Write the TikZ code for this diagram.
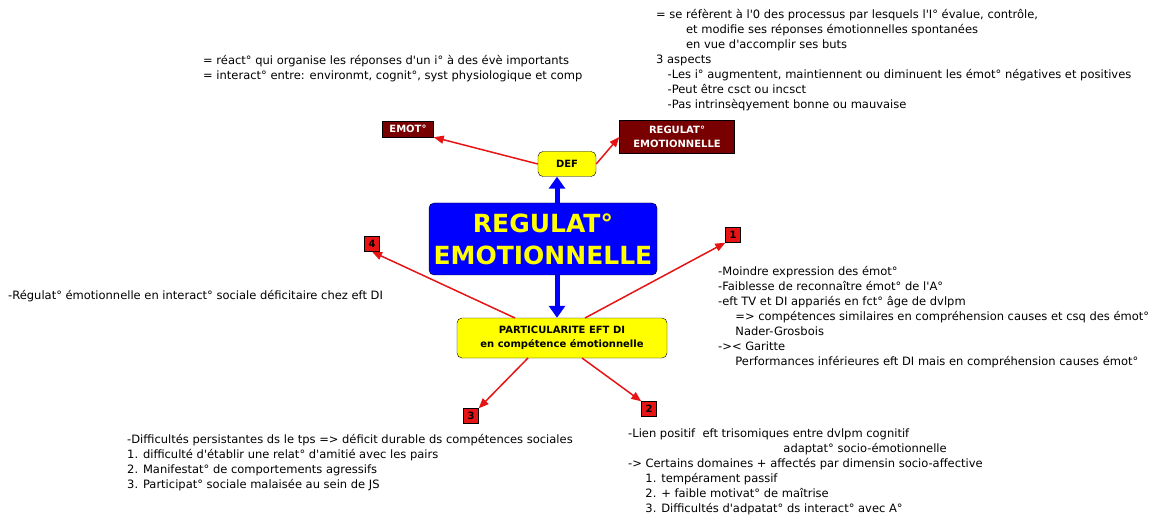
\documentclass[tikz,border=0pt]{standalone}
\usepackage{fontspec}
\setmainfont{DejaVu Sans}[Ligatures=TeXOff]
\usetikzlibrary{positioning}
\usetikzlibrary{arrows.meta}

\definecolor{mapred}{RGB}{230,20,20}
\definecolor{mapdark}{RGB}{120,0,0}
\definecolor{mapblue}{RGB}{0,0,255}
\definecolor{mapyellow}{RGB}{255,255,0}

\begin{document}
\begin{tikzpicture}
 [ x=1pt, y=-1pt
 , every node/.style={inner sep=0pt}
 , note/.style={anchor=north west, align=left, font=\fontsize{11.5}{15}\selectfont}
 , center/.style={draw, fill=mapblue, rounded corners=5pt, text=mapyellow, align=center,
     font=\fontsize{25}{32}\selectfont\bfseries, minimum width=228pt, minimum height=72pt}
 , topic/.style={draw, fill=mapyellow, rounded corners=5pt, align=center,
     font=\fontsize{10}{14}\selectfont\bfseries}
 , dark/.style={draw, fill=mapdark, text=white, align=center,
     font=\fontsize{10}{14}\selectfont\bfseries}
 , num/.style={draw, fill=mapred, font=\fontsize{10}{10}\selectfont\bfseries, minimum size=15pt}
 , thick link/.style={line width=5pt, mapblue, -{Triangle[length=12pt,width=16pt]}}
 , link/.style={line width=1.5pt, mapred, -{Triangle[length=10pt,width=8pt]}}
 ]
  \useasboundingbox (0,0) rectangle (1174,526);

  % main nodes
  \node [center] (main) at (543,239) {REGULAT°\\EMOTIONNELLE};
  \node [topic, minimum width=58pt, minimum height=25pt] (def) at (567,164) {DEF};
  \node [topic, minimum width=210pt, minimum height=40pt] (part) at (562,338)
    {PARTICULARITE EFT DI\\en compétence émotionnelle};
  \node [dark, minimum width=51pt, minimum height=16pt] (emot) at (408,129) {EMOT°};
  \node [dark, minimum width=115pt, minimum height=33pt] (regul) at (677,137)
    {REGULAT°\\EMOTIONNELLE};

  % numbered boxes
  \node [num] (n1) at (733,235) {1};
  \node [num] (n2) at (649,409) {2};
  \node [num] (n3) at (471,416) {3};
  \node [num] (n4) at (372,244) {4};

  % connectors
  \draw [thick link] (main.north -| 557,0) -- (def.south -| 557,0);
  \draw [thick link] (main.south -| 557,0) -- (part.north -| 557,0);
  \draw [link] (def.west) -- (emot.south east);
  \draw [link] (def.east) -- (regul.west);
  \draw [link] (515,318) -- (n4.south);
  \draw [link] (585,318) -- (n1.south west);
  \draw [link] (528,358) -- (n3.north east);
  \draw [link] (582,358) -- (n2.north west);

  % texts
  \node [note] (emottxt) at (203,55)
    {= réact° qui organise les réponses d'un i° à des évè importants\\
     = interact° entre: environmt, cognit°, syst physiologique et comp};
  \node [note] (regultxt) at (656,9)
    {= se réfèrent à l'0 des processus par lesquels l'I° évalue, contrôle,\\
     \hspace{2.6em}et modifie ses réponses émotionnelles spontanées\\
     \hspace{2.6em}en vue d'accomplir ses buts\\
     3 aspects\\
     \hspace{1em}-Les i° augmentent, maintiennent ou diminuent les émot° négatives et positives\\
     \hspace{1em}-Peut être csct ou incsct\\
     \hspace{1em}-Pas intrinsèqyement bonne ou mauvaise};
  \node [note] (txt4) at (8,290)
    {-Régulat° émotionnelle en interact° sociale déficitaire chez eft DI};
  \node [note] (txt1) at (718,266)
    {-Moindre expression des émot°\\
     -Faiblesse de reconnaître émot° de l'A°\\
     -eft TV et DI appariés en fct° âge de dvlpm\\
     \hspace{1.5em}=> compétences similaires en compréhension causes et csq des émot°\\
     \hspace{1.5em}Nader-Grosbois\\
     ->< Garitte\\
     \hspace{1.5em}Performances inférieures eft DI mais en compréhension causes émot°};
  \node [note] (txt3) at (127,434)
    {-Difficultés persistantes ds le tps => déficit durable ds compétences sociales\\
     1. difficulté d'établir une relat° d'amitié avec les pairs\\
     2. Manifestat° de comportements agressifs\\
     3. Participat° sociale malaisée au sein de JS};
  \node [note] (txt2) at (628,429)
    {-Lien positif~ eft trisomiques entre dvlpm cognitif\\
     \hspace{13.5em}adaptat° socio-émotionnelle\\
     -> Certains domaines + affectés par dimensin socio-affective\\
     \hspace{1.5em}1. tempérament passif\\
     \hspace{1.5em}2. + faible motivat° de maîtrise\\
     \hspace{1.5em}3. Difficultés d'adpatat° ds interact° avec A°};
\end{tikzpicture}
\end{document}
